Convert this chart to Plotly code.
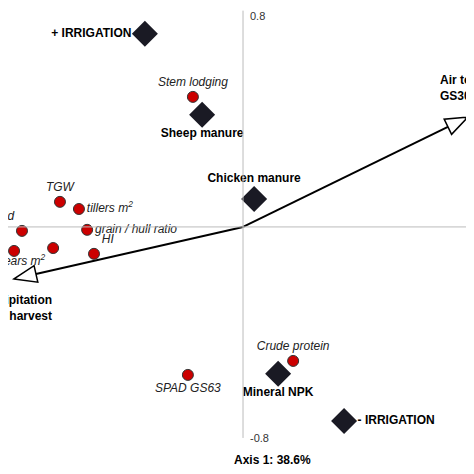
import numpy as np
import plotly.graph_objects as go

# variables (red circles)
var_names = ["Stem lodging", "TGW", "tillers m<sup>2</sup>", "grain yield", "grain / hull ratio",
             "height", "ears m<sup>2</sup>", "HI", "Crude protein", "SPAD GS63"]
var_x = [-0.190, -0.694, -0.622, -0.838, -0.591, -0.868, -0.720, -0.565, 0.190, -0.209]
var_y = [0.493, 0.095, 0.068, -0.015, -0.011, -0.091, -0.080, -0.102, -0.508, -0.561]
var_pos = ["top center", "top center", "middle right", "top left", "middle right",
           "bottom left", "bottom left", "top right", "top center", "bottom center"]

# treatments (black diamonds)
trt_names = ["+ IRRIGATION", "Sheep manure", "Chicken manure", "Mineral NPK", "- IRRIGATION"]
trt_x = [-0.372, -0.155, 0.042, 0.133, 0.383]
trt_y = [0.732, 0.425, 0.106, -0.557, -0.736]
trt_pos = ["middle left", "bottom center", "top center", "bottom center", "middle right"]

# environmental vectors
env_names = ["Air temperature<br>GS30 - harvest", "Precipitation<br>GS30 - harvest"]
env_x = [0.853, -0.868]
env_y = [0.417, -0.197]

fig = go.Figure()

# axes through origin
fig.add_shape(type="line", x0=0, x1=0, y0=-0.8, y1=0.82, line=dict(color="#bbbbbb", width=1))
fig.add_shape(type="line", x0=-1, x1=1, y0=0, y1=0, line=dict(color="#bbbbbb", width=1))

for ex, ey in zip(env_x, env_y):
    v = np.array([ex, ey])
    L = np.linalg.norm(v)
    u = v / L
    n = np.array([-u[1], u[0]])
    hl, hw = 0.085, 0.032
    base = v - u * hl
    fig.add_trace(go.Scatter(x=[0, base[0]], y=[0, base[1]], mode="lines",
                             line=dict(color="black", width=2), showlegend=False, hoverinfo="skip"))
    p1, p2 = base + n * hw, base - n * hw
    fig.add_shape(type="path", path=f"M {v[0]} {v[1]} L {p1[0]} {p1[1]} L {p2[0]} {p2[1]} Z",
                  fillcolor="white", line=dict(color="black", width=1.5))

fig.add_trace(go.Scatter(x=var_x, y=var_y, mode="markers+text", text=var_names,
                         textposition=var_pos,
                         textfont=dict(family="Liberation Sans", size=12, color="#222"),
                         texttemplate="<i>%{text}</i>",
                         marker=dict(color="#cc0000", size=11, line=dict(color="#333", width=1)),
                         showlegend=False))
fig.add_trace(go.Scatter(x=trt_x, y=trt_y, mode="markers+text", text=trt_names,
                         textposition=trt_pos,
                         texttemplate="<b>%{text}</b>",
                         textfont=dict(family="Liberation Sans", size=12, color="black"),
                         marker=dict(color="#1a1a24", size=20, symbol="diamond"),
                         showlegend=False))

fig.add_annotation(x=env_x[0], y=env_y[0], text="<b>" + env_names[0] + "</b>", showarrow=False,
                   xanchor="left", yanchor="bottom", xshift=-30, yshift=12, align="left",
                   font=dict(family="Liberation Sans", size=12, color="black"))
fig.add_annotation(x=env_x[1], y=env_y[1], text="<b>" + env_names[1] + "</b>", showarrow=False,
                   xanchor="right", yanchor="top", xshift=40, yshift=-12, align="right",
                   font=dict(family="Liberation Sans", size=12, color="black"))

for t, yy in [("0.8", 0.8), ("-0.8", -0.8)]:
    fig.add_annotation(x=0, y=yy, text=t, showarrow=False, xanchor="left", xshift=5,
                       font=dict(family="Liberation Sans", size=11, color="#333"))
fig.add_annotation(x=0.11, y=-0.885, text="<b>Axis 1: 38.6%</b>", showarrow=False,
                   font=dict(family="Liberation Sans", size=12, color="black"))

fig.update_layout(width=474, height=474, margin=dict(l=0, r=0, t=0, b=0),
                  plot_bgcolor="white", paper_bgcolor="white",
                  xaxis=dict(range=[-0.891, 0.906], visible=False),
                  yaxis=dict(range=[-0.967, 0.830], visible=False))
fig.write_html("out.html")
